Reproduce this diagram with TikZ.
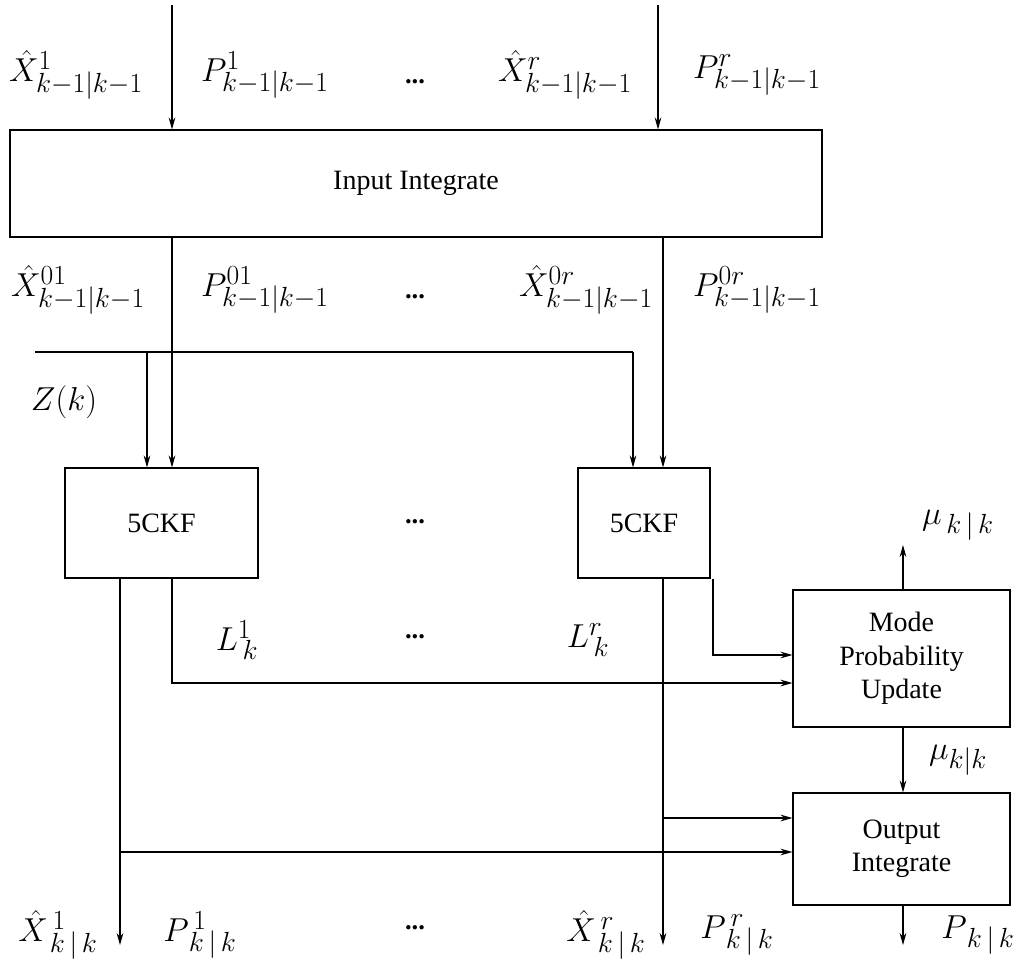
\documentclass[tikz,border=0pt]{standalone}
\usepackage{fontspec}
\setmainfont{Liberation Serif}
\usetikzlibrary{arrows.meta}
\begin{document}
\begin{tikzpicture}[x=0.75pt,y=-0.75pt,
  box/.style={draw,line width=0.8pt,font=\fontsize{21}{25}\selectfont,align=center,inner sep=0pt},
  ar/.style={-{Stealth[length=9pt,width=5pt]},line width=0.8pt},
  ln/.style={line width=0.8pt},
  lab/.style={font=\fontsize{30}{33}\selectfont},
  dots/.style={font=\fontsize{20}{24}\selectfont\bfseries}]
\useasboundingbox (0,0) rectangle (1024,978);
% boxes
\node[box,minimum width=812*0.75pt,minimum height=107*0.75pt] (in) at (416,183.5) {Input Integrate};
\node[box,minimum width=193*0.75pt,minimum height=110*0.75pt] (k1) at (161.5,523) {5CKF};
\node[box,minimum width=132*0.75pt,minimum height=110*0.75pt] (kr) at (644,523) {5CKF};
\node[box,minimum width=217*0.75pt,minimum height=137*0.75pt] (mpu) at (901.5,658.5) {Mode\\Probability\\Update};
\node[box,minimum width=217*0.75pt,minimum height=112*0.75pt] (out) at (901.5,849) {Output\\Integrate};
% coordinates
\coordinate (t1) at (172,5); \coordinate (tr) at (658,5);
\coordinate (z0) at (35,352); \coordinate (zr) at (633,352); \coordinate (zl) at (147,352);
\coordinate (b1) at (120,945); \coordinate (br) at (663,945);
\coordinate (mu) at (903,545); \coordinate (po) at (903,945);
% arrows
\draw[ar] (t1) -- (t1 |- in.north);
\draw[ar] (tr) -- (tr |- in.north);
\draw[ar] (in.south -| 172,0) -- (172,0 |- k1.north);
\draw[ar] (in.south -| 663,0) -- (663,0 |- kr.north);
\draw[ln] (z0) -- (zr);
\draw[ar] (zl) -- (zl |- k1.north);
\draw[ar] (zr) -- (zr |- kr.north);
\draw[ar] (k1.south -| b1) -- (b1);
\draw[ar] (kr.south -| br) -- (br);
\draw[ar] (k1.south -| 172,0) -- (172,683) -- (mpu.west |- 0,683);
\draw[ar] (kr.south -| 713,0) -- (713,655) -- (mpu.west |- 0,655);
\draw[ar] (mpu.north -| mu) -- (mu);
\draw[ar] (mpu.south -| mu) -- (out.north -| mu);
\draw[ar] (out.south -| po) -- (po);
\draw[ar] (663,818) -- (out.west |- 0,818);
\draw[ar] (120,852) -- (out.west |- 0,852);
% labels
\node[lab] (l1) at (76,75) {$\hat X^{1}_{k-1|k-1}$};
\node[lab] (l2) at (265,75) {$P^{1}_{k-1|k-1}$};
\node[dots] (l3) at (415,82) {...};
\node[lab] (l4) at (565,75) {$\hat X^{r}_{k-1|k-1}$};
\node[lab] (l5) at (757,75) {$P^{r}_{k-1|k-1}$};
\node[lab] (m1) at (78,290) {$\hat X^{01}_{k-1|k-1}$};
\node[lab] (m2) at (265,290) {$P^{01}_{k-1|k-1}$};
\node[dots] (m3) at (415,297) {...};
\node[lab] (m4) at (586,290) {$\hat X^{0r}_{k-1|k-1}$};
\node[lab] (m5) at (757,290) {$P^{0r}_{k-1|k-1}$};
\node[lab] (z) at (64,402) {$Z\big(k\big)$};
\node[dots] (d1) at (415,522) {...};
\node[lab] (L1) at (237,640) {$L^{1}_{\,k}$};
\node[dots] (d2) at (415,637) {...};
\node[lab] (Lr) at (588,640) {$L^{r}_{\,k}$};
\node[lab] (mu1) at (958,525) {$\mu_{\,k\,|\,k}$};
\node[lab] (mu2) at (958,760) {$\mu_{k|k}$};
\node[lab] (p0) at (978,935) {$P_{\,k\,|\,k}$};
\node[lab] (o1) at (58,935) {$\hat X^{\,1}_{\,k\,|\,k}$};
\node[lab] (o2) at (200,935) {$P^{\,1}_{\,k\,|\,k}$};
\node[dots] (o3) at (415,928) {...};
\node[lab] (o4) at (606,935) {$\hat X^{\,r}_{\,k\,|\,k}$};
\node[lab] (o5) at (737,935) {$P^{\,r}_{\,k\,|\,k}$};
\end{tikzpicture}
\end{document}
